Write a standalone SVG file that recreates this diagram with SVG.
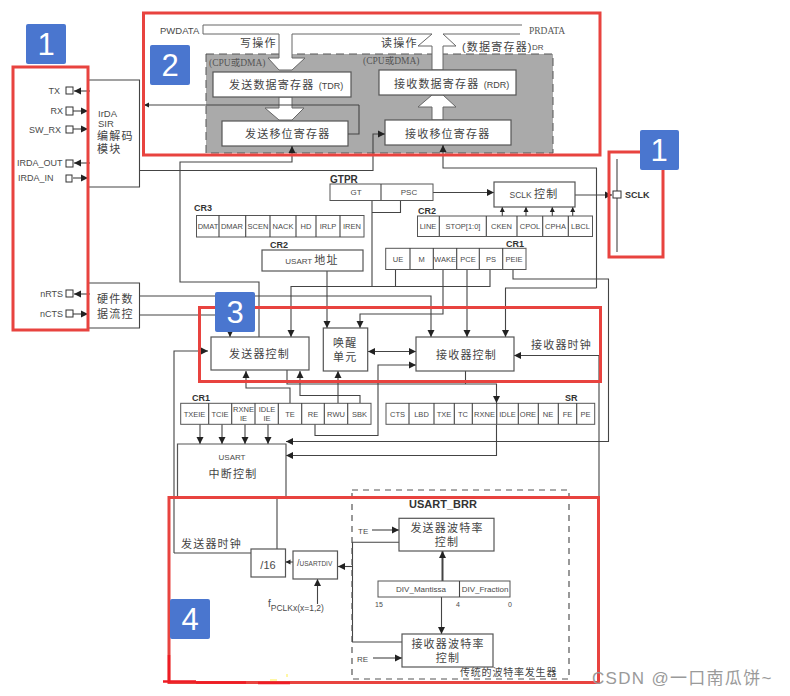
<svg xmlns="http://www.w3.org/2000/svg" width="790" height="696" viewBox="0 0 790 696">
<style>
text{font-family:"Liberation Sans","Noto Sans CJK SC",sans-serif;fill:#4a4a4a;font-size:9px}
.cn{font-size:11px;letter-spacing:1.2px;fill:#444}
.srf{font-family:"Liberation Serif","Noto Sans CJK SC",serif;font-size:9.5px;fill:#555}
.b{font-weight:bold;font-size:10px;fill:#333}
.c{text-anchor:middle}
.box{fill:#fff;stroke:#555;stroke-width:1.2}
.tb{fill:#fff;stroke:#555;stroke-width:1}
.ln{fill:none;stroke:#444;stroke-width:1.1}
.a{marker-end:url(#h)}
.s{marker-end:url(#hs)}
.sq{fill:#fff;stroke:#333;stroke-width:1}
.red{fill:none;stroke:#e8433f;stroke-width:3}
.tag{fill:#4a76cf}
.tagt{fill:#fff;font-size:31px;text-anchor:middle}
.wh{fill:#fff;stroke:#666;stroke-width:1}
</style>
<defs>
<marker id="h" markerUnits="userSpaceOnUse" markerWidth="8" markerHeight="8" refX="7" refY="4" orient="auto-start-reverse"><path d="M0,0.5L7,4L0,7.500z" fill="#222"/></marker>
<marker id="hs" markerUnits="userSpaceOnUse" markerWidth="5" markerHeight="6" refX="5" refY="3" orient="auto"><path d="M0,0.500L5,3L0,5.500z" fill="#222"/></marker>
</defs>
<rect width="790" height="696" fill="#fff"/>

<g id="data-register">
<rect x="206" y="54" width="347" height="99" fill="#aaa" stroke="#555" stroke-dasharray="8 5"/>
<path class="wh" d="M522,25H203V34H279V58H268L279,70H292L305,58H292V34H432L418,46H432V70H443V46H456L443,34H520"/>
<path class="wh" d="M279,97V108H265L279,120H292L304,108H292V97z"/>
<path class="wh" d="M432,95L418,107H432V120H443V107H456L443,95z"/>
<text x="160" y="34" style="font-size:9.5px">PWDATA</text>
<text class="srf" x="529" y="34">PRDATA</text>
<text class="cn" x="240" y="47">写操作</text>
<text class="cn" x="381" y="47">读操作</text>
<text class="cn" x="462" y="51">(数据寄存器)</text>
<text x="532" y="50" style="font-size:8px">DR</text>
<text class="srf" x="209" y="66">(CPU或DMA)</text>
<text class="srf" x="363" y="64">(CPU或DMA)</text>
</g>
<g id="tdr"><rect class="box" x="213" y="72" width="138" height="25"/><text class="cn" x="229" y="89">发送数据寄存器 <tspan style="font-size:9px;letter-spacing:0">(TDR)</tspan></text></g>
<g id="tsr"><rect class="box" x="222" y="121" width="126" height="25"/><text class="cn" x="245" y="138">发送移位寄存器</text></g>
<g id="rdr"><rect class="box" x="379" y="70" width="137" height="25"/><text class="cn" x="394" y="88">接收数据寄存器 <tspan style="font-size:9px;letter-spacing:0">(RDR)</tspan></text></g>
<g id="rsr"><rect class="box" x="385" y="120" width="126" height="25"/><text class="cn" x="405" y="138">接收移位寄存器</text></g>

<g id="connectors">
<path class="ln s" d="M359,105H144"/>
<path class="ln" d="M348,134H359V105"/>
<path class="ln a" d="M139,170.500H373V134H385"/>
<path class="ln a" d="M174,553V351H208"/>
<path class="ln" d="M174,553H251"/>
<path class="ln a" d="M259,337V282H180V162H292V146"/>
<path class="ln a" d="M596.500,288V168H443V145"/>
<path class="ln a" d="M596.500,288H505.500V337"/>
<path class="ln a" d="M433,192.500H494"/>
<path class="ln a" d="M575,195H612"/>
<path class="ln" d="M617,159V252"/>
<path class="ln" d="M372,200V286.500M400.500,200V212.500H372"/>
<path class="ln a" d="M490,270V286.500H291V337"/>
<path class="ln" d="M395.500,270V286.500"/>
<path class="ln a" d="M139,296H431V337"/>
<path class="ln a" d="M139,315H230V337"/>
<path class="ln a" d="M327,271V328"/>
<path class="ln a" d="M443,270V314H360V328"/>
<path class="ln a" d="M467,270V337"/>
<path class="ln a" d="M513,270V279H608.500V441.500H286"/>
<path class="ln a" d="M599,498V355.500H514"/>
<path class="ln a" d="M368,351.500H416" style="marker-start:url(#h)"/>
<path class="ln a" d="M315,424V435.500H378V365H416"/>
<path class="ln" d="M465.500,371V384"/>
<path class="ln a" d="M287,370V384H496.500V403"/>
<path class="ln a" d="M496.500,403V455.500H286"/>
<path class="ln a" d="M360,403V395.500H300V371"/>
<path class="ln a" d="M290,403V388H246V371"/>
<path class="ln a" d="M338,403V371"/>
<path class="ln a" d="M200,424V444"/>
<path class="ln a" d="M222,424V444"/>
<path class="ln a" d="M245,424V444"/>
<path class="ln a" d="M268,424V444"/>
<path class="ln s" d="M502.300,216V207"/>
<path class="ln s" d="M526,216V207"/>
<path class="ln s" d="M552.300,216V207"/>
<path class="ln s" d="M572.700,216V207"/>
<path class="ln" d="M277,497V549"/>
<path class="ln s" d="M293,562H285.500"/>
<path class="ln a" d="M352.500,566.500H338"/>
<path class="ln" d="M399,542.300H352.500V642H402"/>
<path class="ln a" d="M317.500,604V579"/>
<path class="ln a" d="M372,530H399"/>
<path class="ln a" d="M373,658H402"/>
<path class="ln a" d="M442.500,581V551" style="stroke-width:2"/>
<path class="ln a" d="M441.500,597V634"/>
<path class="ln a" d="M90,91H74"/>
<path class="ln a" d="M73,111H88"/>
<path class="ln a" d="M73,129H88"/>
<path class="ln a" d="M90,163H74"/>
<path class="ln a" d="M73,178H88"/>
<path class="ln a" d="M90,294H74"/>
<path class="ln a" d="M73,314H88"/>
</g>

<g id="pins">
<rect class="sq" x="66" y="87" width="7" height="7"/><text x="60" y="94" text-anchor="end">TX</text>
<rect class="sq" x="66" y="107" width="7" height="8"/><text x="63" y="114" text-anchor="end">RX</text>
<rect class="sq" x="66" y="126" width="7" height="7"/><text x="61" y="133" text-anchor="end">SW_RX</text>
<rect class="sq" x="66" y="160" width="7" height="7"/><text x="17" y="166">IRDA_OUT</text>
<rect class="sq" x="66" y="175" width="6" height="7"/><text x="18" y="181">IRDA_IN</text>
<rect class="sq" x="66" y="290" width="7" height="7"/><text x="63" y="297" text-anchor="end">nRTS</text>
<rect class="sq" x="66" y="310" width="7" height="7"/><text x="63" y="317" text-anchor="end">nCTS</text>
</g>
<g id="irda"><path class="ln" d="M88,80H139.500V187H88"/><text x="98" y="117" style="font-size:9.500px">IrDA</text><text x="98" y="127" style="font-size:9.500px">SIR</text><text class="cn" x="97" y="140">编解码</text><text class="cn" x="97" y="153">模块</text></g>
<g id="flow"><path class="ln" d="M88,283H139.500V328H88"/><text class="cn" x="97" y="303">硬件数</text><text class="cn" x="97" y="318">据流控</text></g>

<g id="gtpr"><rect class="tb" x="330" y="184" width="103" height="16.500"/><path class="ln" d="M381,184V200"/><text class="c" x="356" y="195" style="font-size:8px">GT</text><text class="c" x="409" y="195" style="font-size:8px">PSC</text><text class="b" x="330" y="183">GTPR</text></g>
<g id="sclk-ctrl"><rect class="box" x="494" y="182" width="81" height="25"/><text class="c" x="534" y="198" style="font-size:8.500px">SCLK <tspan class="cn">控制</tspan></text></g>
<g id="sclk"><rect class="sq" x="613" y="191" width="8" height="7"/><text class="b" x="625" y="198" style="font-size:9px">SCLK</text></g>

<g id="cr3"><rect class="tb" x="196.500" y="215.500" width="167.500" height="21.500"/><path class="ln" d="M219,215V237M245.700,215V237M270,215V237M296,215V237M316,215V237M340,215V237"/>
<text class="c" x="208" y="229" style="font-size:7.500px">DMAT</text><text class="c" x="232" y="229" style="font-size:7.500px">DMAR</text><text class="c" x="258" y="229" style="font-size:7.500px">SCEN</text><text class="c" x="283" y="229" style="font-size:7.500px">NACK</text><text class="c" x="306" y="229" style="font-size:7.500px">HD</text><text class="c" x="328" y="229" style="font-size:7.500px">IRLP</text><text class="c" x="352" y="229" style="font-size:7.500px">IREN</text><text class="b" x="194" y="211" style="font-size:9px">CR3</text></g>
<g id="usart-addr"><rect class="box" x="262" y="250" width="101" height="21"/><text class="c" x="312" y="264" style="font-size:8px">USART <tspan class="cn">地址</tspan></text><text class="b" x="270" y="248" style="font-size:9px">CR2</text></g>
<g id="cr2"><rect class="tb" x="417.500" y="216" width="175" height="20.500"/><path class="ln" d="M439.300,216V236M486.300,216V236M517,216V236M542.700,216V236M568.300,216V236"/><text class="c" x="428" y="229" style="font-size:7.500px">LINE</text><text class="c" x="463" y="229" style="font-size:7.500px">STOP[1:0]</text><text class="c" x="501.500" y="229" style="font-size:7.500px">CKEN</text><text class="c" x="530" y="229" style="font-size:7.500px">CPOL</text><text class="c" x="555.500" y="229" style="font-size:7.500px">CPHA</text><text class="c" x="580.500" y="229" style="font-size:7.500px">LBCL</text><text class="b" x="418" y="214" style="font-size:9px">CR2</text></g>
<g id="cr1-top"><rect class="tb" x="385.700" y="248.300" width="140.300" height="21.200"/><path class="ln" d="M410,248V269M433.300,248V269M456.700,248V269M479.300,248V269M502.700,248V269"/><text class="c" x="398" y="262" style="font-size:7.500px">UE</text><text class="c" x="421.500" y="262" style="font-size:7.500px">M</text><text class="c" x="445" y="262" style="font-size:7.500px">WAKE</text><text class="c" x="468" y="262" style="font-size:7.500px">PCE</text><text class="c" x="491" y="262" style="font-size:7.500px">PS</text><text class="c" x="514" y="262" style="font-size:7.500px">PEIE</text><text class="b" x="506" y="247" style="font-size:9px">CR1</text></g>

<g id="tx-ctrl"><rect class="box" x="211" y="337" width="98" height="33"/><text class="cn" x="229" y="358">发送器控制</text></g>
<g id="wake"><rect class="box" x="323.300" y="328" width="44.400" height="43"/><text class="cn" x="333" y="347">唤醒</text><text class="cn" x="333" y="361">单元</text></g>
<g id="rx-ctrl"><rect class="box" x="416" y="337" width="98" height="34"/><text class="cn" x="436" y="359">接收器控制</text></g>
<g id="rx-clk"><text class="cn" x="531" y="349">接收器时钟</text></g>

<g id="cr1-bottom"><rect class="tb" x="180.700" y="403.300" width="190.300" height="21"/><path class="ln" d="M208.700,403V424M231.700,403V424M255,403V424M278.300,403V424M301.700,403V424M324.300,403V424M347.700,403V424"/>
<text class="c" x="194.500" y="417" style="font-size:7.500px">TXEIE</text><text class="c" x="220" y="417" style="font-size:7.500px">TCIE</text><text class="c" x="243.500" y="412" style="font-size:7.500px">RXNE</text><text class="c" x="243.500" y="421" style="font-size:7.500px">IE</text><text class="c" x="267" y="412" style="font-size:7.500px">IDLE</text><text class="c" x="267" y="421" style="font-size:7.500px">IE</text><text class="c" x="290" y="417" style="font-size:7.500px">TE</text><text class="c" x="313" y="417" style="font-size:7.500px">RE</text><text class="c" x="336" y="417" style="font-size:7.500px">RWU</text><text class="c" x="359.500" y="417" style="font-size:7.500px">SBK</text><text class="b" x="192" y="401" style="font-size:9px">CR1</text></g>
<g id="sr"><rect class="tb" x="386" y="403.300" width="208.700" height="21"/><path class="ln" d="M409,403V424M434,403V424M454.300,403V424M472.300,403V424M496.700,403V424M518.300,403V424M538.300,403V424M558.300,403V424M576.700,403V424"/><text class="c" x="397.500" y="417" style="font-size:7.500px">CTS</text><text class="c" x="421.500" y="417" style="font-size:7.500px">LBD</text><text class="c" x="444" y="417" style="font-size:7.500px">TXE</text><text class="c" x="463" y="417" style="font-size:7.500px">TC</text><text class="c" x="484.500" y="417" style="font-size:7.500px">RXNE</text><text class="c" x="507.500" y="417" style="font-size:7.500px">IDLE</text><text class="c" x="528" y="417" style="font-size:7.500px">ORE</text><text class="c" x="548" y="417" style="font-size:7.500px">NE</text><text class="c" x="567.500" y="417" style="font-size:7.500px">FE</text><text class="c" x="585.500" y="417" style="font-size:7.500px">PE</text><text class="b" x="565" y="401" style="font-size:9px">SR</text></g>

<g id="irq"><path class="box" d="M177.500,498V444H286V498"/><text class="c" x="232" y="460" style="font-size:8px">USART</text><text class="cn c" x="233" y="478">中断控制</text></g>
<g id="tx-clk"><text class="cn" x="181" y="548">发送器时钟</text></g>
<g id="div16"><rect class="box" x="251" y="549" width="34.500" height="28"/><text class="c" x="268" y="569" style="font-size:11px">/16</text></g>
<g id="usartdiv"><rect class="box" x="293" y="551" width="44.500" height="28"/><text x="297" y="566" style="font-size:9px">/<tspan style="font-size:6.500px">USARTDIV</tspan></text></g>
<g id="fpclk"><text x="268" y="607" style="font-size:10px">f<tspan dy="4" style="font-size:8.500px">PCLKx(x=1,2)</tspan></text></g>

<g id="usart-brr"><rect x="352" y="490" width="217" height="189" fill="none" stroke="#555" stroke-width="1.200" stroke-dasharray="6 5"/><text class="b" x="409" y="508" style="font-size:11px">USART_BRR</text><text x="358" y="534" style="font-size:8px">TE</text><text x="357" y="662" style="font-size:8px">RE</text><text class="cn" x="460" y="676" style="font-size:10px;letter-spacing:.8px">传统的波特率发生器</text></g>
<g id="tx-baud"><rect class="box" x="399" y="518.300" width="95" height="32.700"/><text class="cn c" x="447" y="532">发送器波特率</text><text class="cn c" x="447" y="546">控制</text></g>
<g id="rx-baud"><rect class="box" x="402" y="634" width="91" height="33"/><text class="cn c" x="448" y="648">接收器波特率</text><text class="cn c" x="448" y="662">控制</text></g>
<g id="brr-reg"><rect class="tb" x="378" y="581" width="132" height="16"/><path class="ln" d="M459.500,581V597"/><text class="c" x="421" y="592" style="font-size:8px">DIV_Mantissa</text><text class="c" x="485" y="592" style="font-size:8px">DIV_Fraction</text><text class="c" x="379" y="607" style="font-size:7px">15</text><text class="c" x="458" y="607" style="font-size:7px">4</text><text class="c" x="510" y="607" style="font-size:7px">0</text></g>

<g id="regions">
<rect class="red" x="13" y="67" width="75" height="263"/>
<rect class="red" x="143.500" y="13" width="456.500" height="142"/>
<rect class="red" x="609" y="152" width="54" height="105"/>
<rect class="red" x="199.500" y="307.500" width="401" height="74"/>
<rect class="red" x="169" y="497.500" width="429.500" height="185"/>
<path d="M169,655V683M163,681.500H196M196,682.500H246M258,683H290" fill="none" stroke="#ee1c25" stroke-width="2.500"/>
<path d="M270,680H277M287,674V677" fill="none" stroke="#ffef4a" stroke-width="1"/>
</g>
<g id="tag-1a"><rect class="tag" x="26" y="24" width="40" height="40" rx="2"/><text class="tagt" x="46" y="55">1</text></g>
<g id="tag-2"><rect class="tag" x="150" y="45" width="40" height="40" rx="2"/><text class="tagt" x="170" y="76">2</text></g>
<g id="tag-1b"><rect class="tag" x="640" y="130" width="39" height="40" rx="2"/><text class="tagt" x="659" y="161">1</text></g>
<g id="tag-3"><rect class="tag" x="215" y="292" width="40" height="40" rx="2"/><text class="tagt" x="235" y="323">3</text></g>
<g id="tag-4"><rect class="tag" x="170" y="599" width="40" height="40" rx="2"/><text class="tagt" x="190" y="630">4</text></g>
<text x="592" y="684" style="font-size:17px;letter-spacing:1.3px;fill:#9a9a9a">CSDN @一口南瓜饼~</text>
</svg>
